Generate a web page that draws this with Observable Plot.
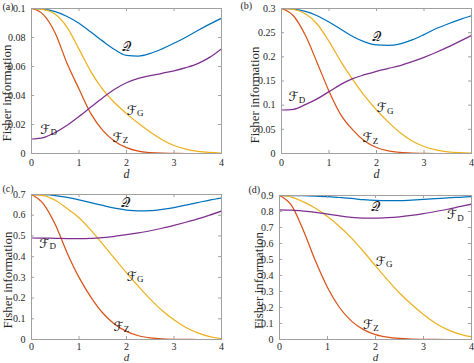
<!DOCTYPE html>
<html><head><meta charset="utf-8">
<script src="https://cdn.jsdelivr.net/npm/d3@7"></script>
<script src="https://cdn.jsdelivr.net/npm/@observablehq/plot@0.6"></script>
<style>
body{margin:0;background:#fff;}
#wrap{position:relative;width:474px;height:363px;overflow:hidden;background:#fff;}
.p{position:absolute;}
</style></head><body><div id="wrap"></div>
<script>
const dGrid = [0,0.25,0.5,0.75,1,1.25,1.5,1.75,2,2.25,2.5,2.75,3,3.25,3.5,3.75,4];

// Panel (a)
const qA  = [0.1,0.0995,0.0978,0.0945,0.0898,0.0838,0.0775,0.0717,0.0677,0.0672,0.069,0.0722,0.076,0.0802,0.0848,0.0892,0.0933];
const fzA = [0.1,0.0958,0.083,0.062,0.0445,0.0275,0.016,0.0085,0.004,0.0016,0.0006,0.0002,0.0001,0,0,0,0];
const fgA = [0.1,0.0992,0.096,0.087,0.072,0.0565,0.0442,0.035,0.0275,0.0208,0.0148,0.0095,0.0055,0.003,0.0015,0.0007,0.0003];
const fdA = [0.01,0.011,0.0145,0.0195,0.0255,0.032,0.0385,0.0443,0.0488,0.0518,0.0537,0.0553,0.057,0.0592,0.062,0.0663,0.0722];
// Panel (b)
const qB  = [0.3,0.2985,0.294,0.285,0.272,0.257,0.242,0.231,0.2245,0.2235,0.227,0.235,0.246,0.258,0.268,0.277,0.285];
const fzB = [0.3,0.285,0.245,0.188,0.129,0.08,0.049,0.026,0.0125,0.0055,0.0022,0.0008,0.0003,0,0,0,0];
const fgB = [0.3,0.298,0.289,0.268,0.232,0.19,0.153,0.119,0.09,0.065,0.043,0.026,0.0145,0.0075,0.0036,0.0016,0.0007];
const fdB = [0.09,0.0915,0.101,0.113,0.128,0.143,0.155,0.163,0.17,0.176,0.182,0.19,0.199,0.209,0.22,0.232,0.244];
// Panel (c)
const qC  = [0.7,0.699,0.695,0.686,0.674,0.661,0.647,0.634,0.625,0.621,0.622,0.628,0.637,0.649,0.661,0.673,0.683];
const fzC = [0.7,0.655,0.555,0.418,0.3,0.205,0.128,0.074,0.039,0.018,0.008,0.003,0.001,0.0003,0,0,0];
const fgC = [0.7,0.695,0.672,0.632,0.588,0.528,0.46,0.39,0.322,0.257,0.195,0.14,0.095,0.058,0.032,0.014,0.004];
const fdC = [0.49,0.4895,0.4885,0.4875,0.487,0.488,0.492,0.498,0.506,0.515,0.525,0.537,0.551,0.566,0.582,0.6,0.62];
// Panel (d)
const qD  = [0.9,0.8997,0.899,0.8965,0.893,0.8875,0.8815,0.874,0.869,0.8675,0.868,0.8715,0.8755,0.88,0.885,0.889,0.893];
const fzD = [0.9,0.838,0.68,0.49,0.325,0.2,0.115,0.062,0.031,0.015,0.0065,0.0025,0.001,0.0003,0,0,0];
const fgD = [0.9,0.89,0.86,0.82,0.768,0.706,0.634,0.55,0.46,0.373,0.291,0.22,0.156,0.102,0.062,0.034,0.017];
const fdD = [0.81,0.808,0.802,0.794,0.784,0.773,0.764,0.759,0.758,0.761,0.767,0.776,0.787,0.8,0.814,0.83,0.846];

const xTicks = [0,1,2,3,4];
const yTicksA = [0,0.02,0.04,0.06,0.08,0.1];
const yTicksB = [0,0.05,0.1,0.15,0.2,0.25,0.3];
const yTicksC = [0,0.1,0.2,0.3,0.4,0.5,0.6,0.7];
const yTicksD = [0,0.1,0.2,0.3,0.4,0.5,0.6,0.7,0.8,0.9];

// curve label anchors [key, d, value] (centre of the label)
const labA = [["Q",2.0,0.0735],["G",2.2,0.0296],["Z",1.9,0.011],["D",0.38,0.0165]];
const labB = [["Q",2.0,0.241],["G",2.2,0.094],["Z",1.9,0.032],["D",0.34,0.1165]];
const labC = [["Q",1.97,0.662],["G",2.2,0.304],["Z",1.92,0.063],["D",0.36,0.463]];
const labD = [["Q",2.0,0.83],["G",2.2,0.487],["Z",1.93,0.09],["D",3.68,0.78]];

const panelNames = ["(a)","(b)","(c)","(d)"];
const yTitle = "Fisher information";
const xTitle = "d";

const colors = {Q:"#0072BD", Z:"#D95319", G:"#EDB120", D:"#7E2F8E"};
const boxColor = "#a0a0a0";
const textColor = "#262626";
const serif = "Liberation Serif, DejaVu Serif, serif";

const panels = [
  {name:panelNames[0], left:0, top:0, w:237, h:181, ml:31, mr:16, mt:8, mb:28, yMax:0.1, yTicks:yTicksA, q:qA, fz:fzA, fg:fgA, fd:fdA, lab:labA, yLabX:6, yLabOff:12, xLabY:174, xPad:5, xFs:12, nameX:2, nameY:6},
  {name:panelNames[1], left:237, top:0, w:237, h:181, ml:44, mr:3, mt:8, mb:28, yMax:0.3, yTicks:yTicksB, q:qB, fz:fzB, fg:fgB, fd:fdB, lab:labB, yLabX:17, yLabOff:14, xLabY:174, xPad:5, xFs:12, nameX:3, nameY:5},
  {name:panelNames[2], left:0, top:181, w:237, h:182, ml:31, mr:16, mt:13, mb:24, yMax:0.7, yTicks:yTicksC, q:qC, fz:fzC, fg:fgC, fd:fdC, lab:labC, yLabX:7, yLabOff:13, xLabY:176, xPad:3, xFs:11, nameX:2, nameY:7},
  {name:panelNames[3], left:237, top:181, w:237, h:182, ml:42, mr:3, mt:14, mb:24, yMax:0.9, yTicks:yTicksD, q:qD, fz:fzD, fg:fgD, fd:fdD, lab:labD, yLabX:21, yLabOff:13, xLabY:176, xPad:3, xFs:11, nameX:11, nameY:8},
];

const fmt = v => String(+v.toFixed(3));
const wrap = document.getElementById("wrap");

for (const p of panels) {
  const series = [["Q", p.q], ["Z", p.fz], ["G", p.fg], ["D", p.fd]];
  const plotBottom = p.h - p.mb;
  const marks = [];
  for (const [k, vals] of series) {
    marks.push(Plot.line(dGrid.map((d, i) => ({d, v: vals[i]})), {x: "d", y: "v", stroke: colors[k], strokeWidth: 1.25, curve: "monotone-x", clip: true}));
  }
  // box and inward ticks
  marks.push(Plot.frame({stroke: boxColor, strokeWidth: 1}));
  marks.push(Plot.ruleX(xTicks, {x: d => d, y1: 0, y2: 0, insetTop: -3, stroke: boxColor}));
  marks.push(Plot.ruleX(xTicks, {x: d => d, y1: p.yMax, y2: p.yMax, insetBottom: -3, stroke: boxColor}));
  marks.push(Plot.ruleY(p.yTicks, {y: d => d, x1: 0, x2: 0, insetRight: -3, stroke: boxColor}));
  marks.push(Plot.ruleY(p.yTicks, {y: d => d, x1: 4, x2: 4, insetLeft: -3, stroke: boxColor}));
  // axes
  marks.push(Plot.axisX(xTicks, {tickSize: 0, tickPadding: p.xPad, tickFormat: fmt, label: null, fontSize: 10, fontFamily: serif, fill: textColor}));
  marks.push(Plot.axisY(p.yTicks, {tickSize: 0, tickPadding: 6, tickFormat: fmt, label: null, fontSize: 10, fontFamily: serif, fill: textColor}));
  // titles
  marks.push(Plot.text([yTitle], {text: d => d, frameAnchor: "left", rotate: -90, dx: p.yLabX - p.ml, dy: p.yLabOff, lineAnchor: "middle", textAnchor: "middle", fontSize: 13, fontFamily: serif, fill: textColor}));
  marks.push(Plot.text([xTitle], {text: d => d, frameAnchor: "bottom", dy: p.xLabY - plotBottom, lineAnchor: "middle", fontStyle: "italic", fontSize: p.xFs, fontFamily: serif, fill: textColor}));
  marks.push(Plot.text([p.name], {text: d => d, frameAnchor: "top-left", dx: p.nameX - p.ml, dy: p.nameY - p.mt, textAnchor: "start", lineAnchor: "middle", fontSize: 10, fontFamily: serif, fill: textColor}));
  // curve labels
  const labData = p.lab.map(([k, d, v]) => ({k, d, v}));
  marks.push(Plot.text(labData.filter(r => r.k === "Q"), {x: "d", y: "v", text: () => "𝒬", textAnchor: "middle", lineAnchor: "middle", fontSize: 13, fill: "#111", fontFamily: "DejaVu Serif, DejaVu Sans, serif"}));
  marks.push(Plot.text(labData.filter(r => r.k !== "Q"), {x: "d", y: "v", text: () => "ℱ", dx: 1, textAnchor: "end", lineAnchor: "middle", fontSize: 13, fill: "#111", fontFamily: "DejaVu Serif, DejaVu Sans, serif"}));
  marks.push(Plot.text(labData.filter(r => r.k !== "Q"), {x: "d", y: "v", text: "k", dx: 1, dy: 3, textAnchor: "start", lineAnchor: "middle", fontSize: 9, fill: "#111", fontFamily: serif}));

  const svg = Plot.plot({
    width: p.w, height: p.h,
    marginLeft: p.ml, marginRight: p.mr, marginTop: p.mt, marginBottom: p.mb,
    x: {domain: [0, 4]},
    y: {domain: [0, p.yMax]},
    style: {fontFamily: serif, fontSize: "10px", background: "transparent", color: textColor, overflow: "visible"},
    marks
  });
  svg.setAttribute("font-family", serif);
  svg.classList.add("p");
  svg.style.left = p.left + "px";
  svg.style.top = p.top + "px";
  wrap.appendChild(svg);
}
</script></body></html>
